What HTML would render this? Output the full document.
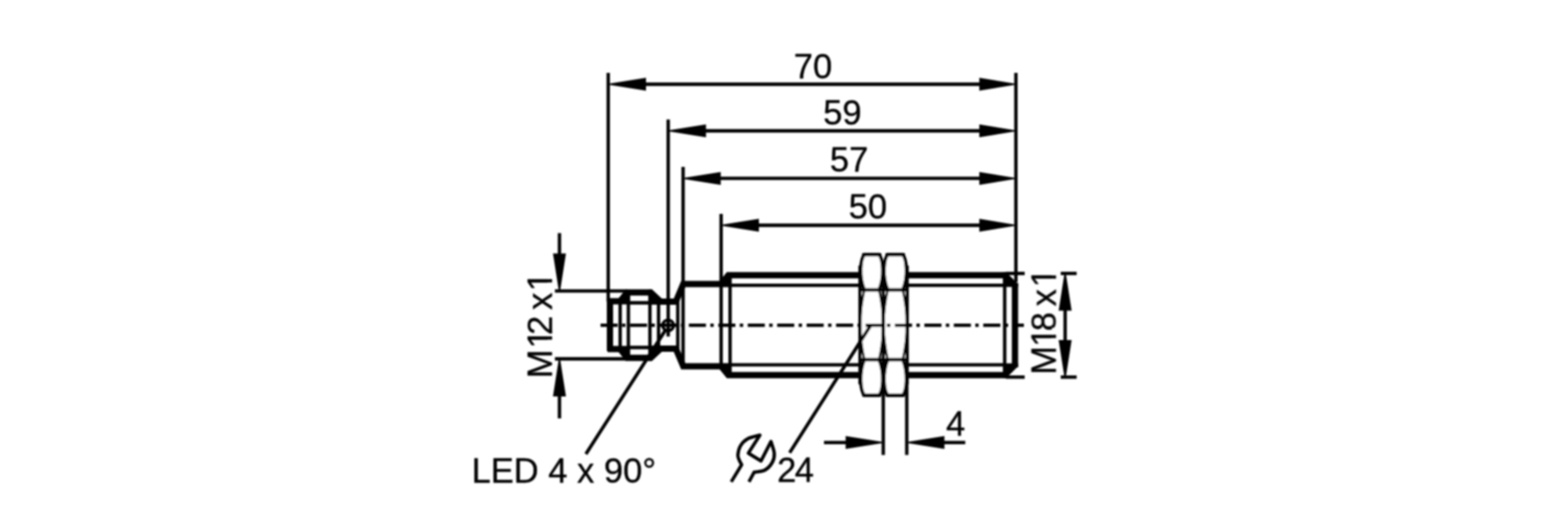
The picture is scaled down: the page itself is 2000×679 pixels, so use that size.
<!DOCTYPE html>
<html lang="en">
<head>
<meta charset="utf-8">
<title>Scale drawing</title>
<style>
html,body{margin:0;padding:0;background:#fff;}
body{width:2000px;height:679px;overflow:hidden;}
svg{display:block;}
</style>
</head>
<body>
<svg width="2000" height="679" viewBox="0 0 2000 679">
<defs><filter id="b" x="0" y="0" width="2000" height="679" filterUnits="userSpaceOnUse"><feGaussianBlur stdDeviation="0.9"/></filter><filter id="bt" x="0" y="0" width="2000" height="679" filterUnits="userSpaceOnUse"><feGaussianBlur stdDeviation="0.85"/></filter></defs>
<rect width="2000" height="679" fill="#fff"/>
<g filter="url(#b)">
<g fill="none" stroke="#000" stroke-width="4.3" stroke-linecap="butt" stroke-linejoin="miter">
<path d="M775.8 93V385"/>
<path d="M1295.8 93V360"/>
<path d="M852.3 152.5V429.5"/>
<path d="M871.3 213V468"/>
<path d="M919.8 273V468"/>
<path d="M822 107.5H1250"/>
<path d="M898 167H1250"/>
<path d="M917 227.7H1250"/>
<path d="M966 287.5H1250"/>
<path d="M707.8 371.3H800"/>
<path d="M707.8 458H800"/>
<path d="M713.6 297.5V326"/>
<path d="M713.6 504V534"/>
<path d="M1283 349H1307"/>
<path d="M1283 481.3H1307"/>
<path d="M1353 349H1373.3"/>
<path d="M1353 481.3H1373.3"/>
<path d="M1358.6 394V436"/>
<path d="M1126.6 490V580.7"/>
<path d="M1156.6 490V580.7"/>
<path d="M1051 564.8H1081"/>
<path d="M1203 564.8H1231.2"/>
<path d="M791 384V446"/>
<path d="M801.5 373V457"/>
<path d="M829 373V457"/>
<path d="M840 385V445"/>
<path d="M864.5 383V447"/>
<path d="M801 386.5H843"/>
<path d="M801 443.5H843"/>
<path d="M931.2 351V479"/>
<path d="M1281.5 351V479"/>
<path d="M931 364.2H1281.5"/>
<path d="M931 465.6H1281.5"/>
<circle cx="852.2" cy="415.3" r="6.9" stroke-width="3.8"/>
</g>
<g fill="none" stroke="#000" stroke-width="8.0" stroke-linejoin="miter" stroke-linecap="butt">
<path d="M778 448V382"/>
<path d="M1294.6 361V469"/>
<path d="M775 384.5H791L800 373.3H830L842.5 385H862L871.5 362.5H919.8L929 351.3H1283M1283 478.7H929L919.8 467.5H871.5L862 445H842.5L830 456.7H800L791 445.5H775"/>
</g>
<g fill="#000" stroke="none">
<polygon points="789,381 798,371 803.5,371 803.5,388.5 789,388.5"/>
<polygon points="789,449.0 798,459.0 803.5,459.0 803.5,441.5 789,441.5"/>
<polygon points="827,369.5 831,369.5 843,381 843,388.5 827,388.5"/>
<polygon points="827,460.5 831,460.5 843,449.0 843,441.5 827,441.5"/>
<polygon points="918,359 922,359 928,350 933,347.5 933,366.5 918,366.5"/>
<polygon points="918,471.0 922,471.0 928,480.0 933,482.5 933,463.5 918,463.5"/>
<polygon points="1279.5,347.4 1283.5,347.4 1298.6,362.5 1298.6,366.2 1279.5,366.2"/>
<polygon points="1279.5,482.6 1283.5,482.6 1298.6,467.5 1298.6,463.8 1279.5,463.8"/>
</g>
<path d="M1097 337.0L1102.5 325.0H1121.3L1126.8 337.0V492.5L1121.3 504.5H1102.5L1097 492.5Z" fill="#fff" stroke="none"/><path d="M1102.5 325.0C1097.8 330.9 1095.1 352.0 1102.5 370.0M1121.3 325.0C1126.0 330.9 1128.7 352.0 1121.3 370.0M1102.5 504.5C1097.8 498.6 1095.1 477.2 1102.5 459.0M1121.3 504.5C1126.0 498.6 1128.7 477.2 1121.3 459.0M1101.5 325.0H1122.3M1101.5 504.5H1122.3" fill="none" stroke="#000" stroke-width="4.3" stroke-linejoin="round" stroke-linecap="round"/><path d="M1102.5 370.0Q1092 414.5 1102.5 459.0M1121.3 370.0Q1131.8 414.5 1121.3 459.0" fill="none" stroke="#000" stroke-width="3"/><path d="M1097 339.0V490.5M1126.8 339.0V490.5M1099 370.0H1124.8M1099 459.0H1124.8" fill="none" stroke="#000" stroke-width="4.3"/>
<path d="M1126.8 337.0L1132.3 325.0H1151.5L1157 337.0V492.5L1151.5 504.5H1132.3L1126.8 492.5Z" fill="#fff" stroke="none"/><path d="M1132.3 325.0C1127.6 330.9 1124.9 352.0 1132.3 370.0M1151.5 325.0C1156.2 330.9 1158.9 352.0 1151.5 370.0M1132.3 504.5C1127.6 498.6 1124.9 477.2 1132.3 459.0M1151.5 504.5C1156.2 498.6 1158.9 477.2 1151.5 459.0M1131.3 325.0H1152.5M1131.3 504.5H1152.5" fill="none" stroke="#000" stroke-width="4.3" stroke-linejoin="round" stroke-linecap="round"/><path d="M1132.3 370.0Q1121.8 414.5 1132.3 459.0M1151.5 370.0Q1162 414.5 1151.5 459.0" fill="none" stroke="#000" stroke-width="3"/><path d="M1126.8 339.0V490.5M1157 339.0V490.5M1128.8 370.0H1155M1128.8 459.0H1155" fill="none" stroke="#000" stroke-width="4.3"/>
<path d="M766 415.2H1306" fill="none" stroke="#000" stroke-width="4.3" stroke-dasharray="21.8 5.6 4.3 5.85"/>
<path d="M747.3 579.5L849 421M1007.2 577.8L1111 414.5" fill="none" stroke="#000" stroke-width="4.3"/>
<g fill="#000" stroke="none">
<polygon points="777.0,106.7 777.0,108.3 824.0,115.7 824.0,99.3"/>
<polygon points="1294.6,106.7 1294.6,108.3 1249.1,115.7 1249.1,99.3"/>
<polygon points="853.5,166.2 853.5,167.8 900.5,175.2 900.5,158.8"/>
<polygon points="1294.6,166.2 1294.6,167.8 1249.1,175.2 1249.1,158.8"/>
<polygon points="872.3,226.9 872.3,228.5 919.3,235.9 919.3,219.5"/>
<polygon points="1294.6,226.9 1294.6,228.5 1249.1,235.9 1249.1,219.5"/>
<polygon points="921.0,286.7 921.0,288.3 968.0,295.7 968.0,279.3"/>
<polygon points="1294.6,286.7 1294.6,288.3 1249.1,295.7 1249.1,279.3"/>
<polygon points="712.8,371.5 714.4,371.5 721.9,323.5 705.3,323.5"/>
<polygon points="712.8,458.0 714.4,458.0 721.9,506.0 705.3,506.0"/>
<polygon points="1357.8,348.5 1359.4,348.5 1366.9,396.5 1350.3,396.5"/>
<polygon points="1357.8,482.0 1359.4,482.0 1366.9,434.0 1350.3,434.0"/>
<polygon points="1125.6,564.0 1125.6,565.6 1078.6,573.0 1078.6,556.6"/>
<polygon points="1157.6,564.0 1157.6,565.6 1204.6,573.0 1204.6,556.6"/>
</g>
<path d="M932.7 615L946 593.2C945.5 592.2 943.6 589.1 942.8 587.0C942.0 584.9 940.9 583.5 941.2 580.5C941.5 577.5 942.5 572.4 944.5 569.0C946.5 565.6 949.1 562.6 953.2 560.3C957.3 558.0 966.6 556.2 969.3 555.4L954.5 578.3L970.7 588.3L983.4 563.6C984.1 566.1 987.3 574.2 987.6 578.6C987.9 583.0 987.2 586.3 985.2 589.9C983.2 593.5 979.5 597.9 975.6 600.0C971.7 602.1 964.3 602.2 962.0 602.6L955.3 615" fill="none" stroke="#000" stroke-width="4.3" stroke-linejoin="round"/>
</g>
<g font-family="'Liberation Sans', sans-serif" font-size="44" fill="#000" stroke="#000" stroke-width="0.4" stroke-linejoin="round" filter="url(#bt)">
<text x="1037" y="99.5" text-anchor="middle">70</text>
<text x="1074.5" y="158.5" text-anchor="middle">59</text>
<text x="1083" y="219" text-anchor="middle">57</text>
<text x="1107" y="279" text-anchor="middle">50</text>
<text x="601.5" y="615.6">LED 4 x 90°</text>
<text x="991.3 1013.7" y="615.2">24</text>
<text x="1206.8" y="555.6">4</text>
<clipPath id="c1"><path clip-rule="evenodd" d="M-492.7 -45H-331.4V15H-492.7ZM-442.4 -5H-433.5V3H-442.4ZM-429.3 -5H-425.6V3H-429.3ZM-369.4 -5H-360.5V3H-369.4ZM-356.3 -5H-347.4V3H-356.3Z"/></clipPath><text transform="translate(703.7 0) rotate(-90)" x="-482.7 -444.4 -427.6 -405.0 -395.5 -371.4" y="0" clip-path="url(#c1)">M12 x1</text>
<clipPath id="c2"><path clip-rule="evenodd" d="M-488.3 -45H-326.6V15H-488.3ZM-440.4 -5H-431.5V3H-440.4ZM-427.3 -5H-418.4V3H-427.3ZM-364.6 -5H-355.7V3H-364.6ZM-351.5 -5H-342.6V3H-351.5Z"/></clipPath><text transform="translate(1346.7 0) rotate(-90)" x="-478.3 -442.4 -422.7 -400.0 -391.0 -366.6" y="0" clip-path="url(#c2)">M18 x1</text>
</g>
</svg>
</body>
</html>
